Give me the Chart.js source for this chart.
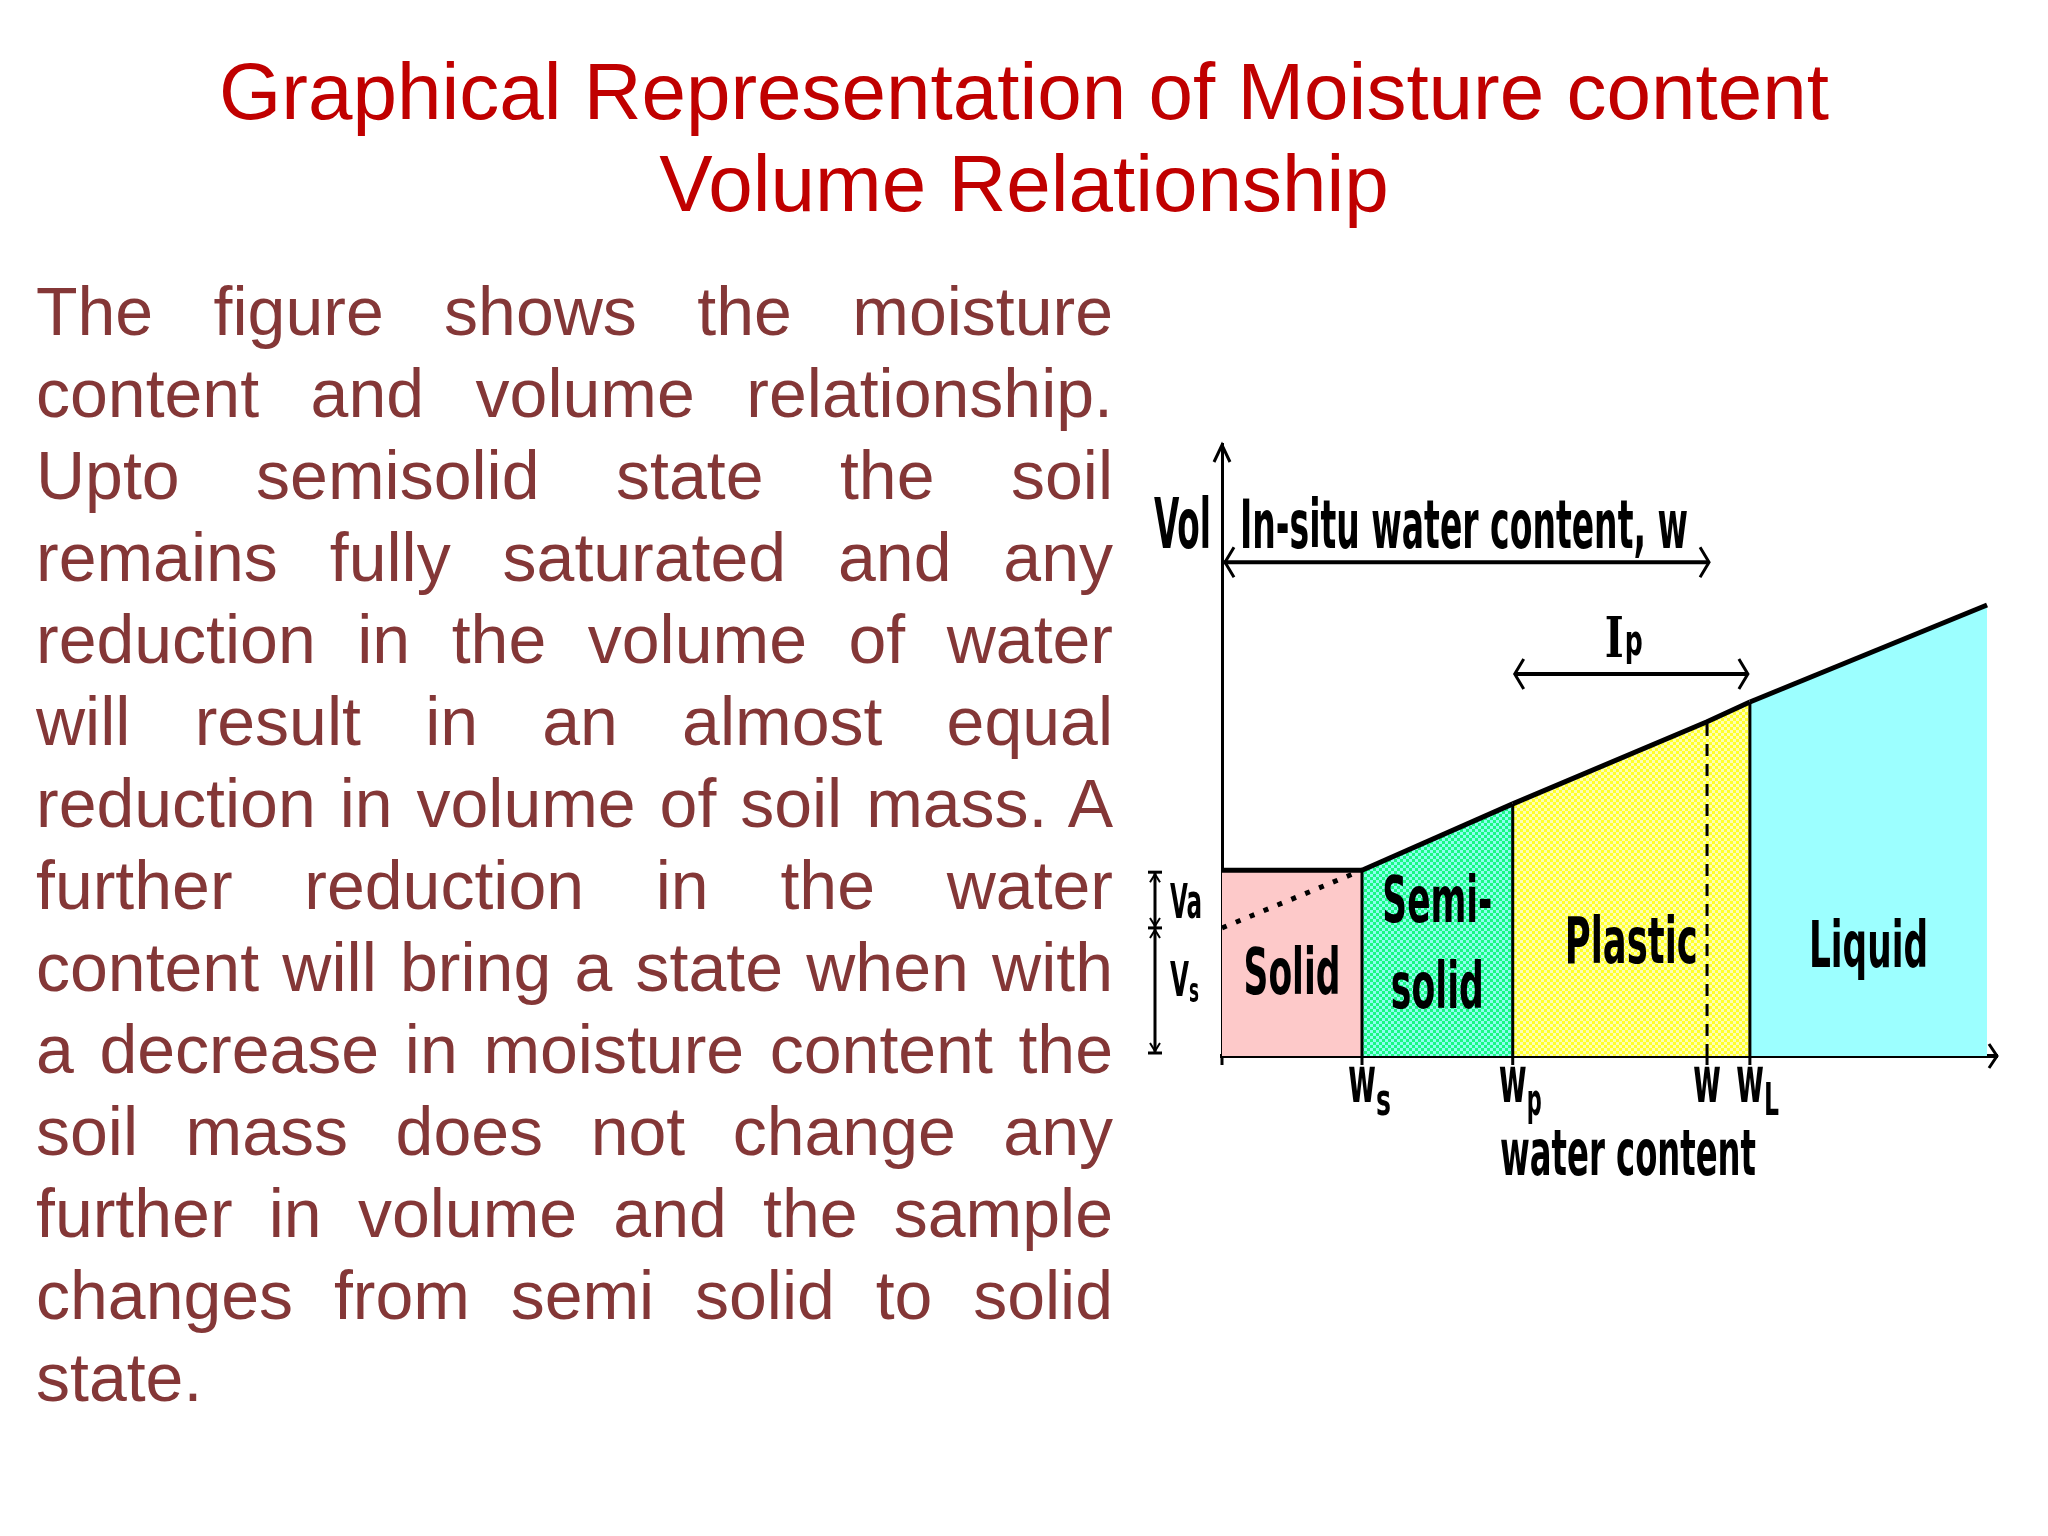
<!DOCTYPE html>
<html>
<head>
<meta charset="utf-8">
<script src="https://cdn.jsdelivr.net/npm/chart.js@4.4.1/dist/chart.umd.min.js"></script>
<style>
  html, body { margin: 0; padding: 0; background: #fff; }
  body { width: 2048px; height: 1536px; position: relative; overflow: hidden; }
  #title {
    position: absolute; left: 0; top: 46px; width: 2048px;
    text-align: center; color: #c00000;
    font-family: "Liberation Sans", Arial, sans-serif; font-size: 80px; line-height: 92px;
  }
  #text {
    position: absolute; left: 36px; top: 270px; width: 1077px;
    color: #843737;
    font-family: "Liberation Sans", Arial, sans-serif; font-size: 68px; line-height: 82px;
  }
  #text div { text-align: justify; text-align-last: justify; }
  #text div.last { text-align-last: left; }
  #wrap { position: absolute; left: 1100px; top: 400px; width: 948px; height: 800px; }
</style>
</head>
<body>
<div id="title">Graphical Representation of Moisture content<br>Volume Relationship</div>
<div id="text">
  <div>The figure shows the moisture</div>
  <div>content and volume relationship.</div>
  <div>Upto semisolid state the soil</div>
  <div>remains fully saturated and any</div>
  <div>reduction in the volume of water</div>
  <div>will result in an almost equal</div>
  <div>reduction in volume of soil mass. A</div>
  <div>further reduction in the water</div>
  <div>content will bring a state when with</div>
  <div>a decrease in moisture content the</div>
  <div>soil mass does not change any</div>
  <div>further in volume and the sample</div>
  <div>changes from semi solid to solid</div>
  <div class="last">state.</div>
</div>
<div id="wrap"><canvas id="chart" width="948" height="800"></canvas></div>
<script>
// valeurs (w en % arbitraire, volume en unites relatives)
const waterContent = [0, 18.3, 38.0, 63.4, 69.0, 100];   // 0, ws, wp, w, wL, fin
const volume = [41.2, 41.2, 55.9, 74.1, 78.5, 100];
const tickMain = ['', 'w', 'w', 'w', 'w'];
const tickSub = ['', 's', 'p', '', 'L'];
const stateNames = ['Solid', 'Semi-|solid', 'Plastic', 'Liquid'];
const stateBounds = [[0, 1], [1, 2], [2, 4], [4, 5]];
const solidsVolume = 28.4;   // Vs
const limitIdx = [1, 2, 4];  // ws, wp, wL
const insituIdx = 3;         // w

const FONT = '"DejaVu Sans Condensed", "Liberation Sans Narrow", "DejaVu Sans", sans-serif';

// petit damier pour imiter la trame de l'image
function dither(c1, c2, cell) {
    const cv = document.createElement('canvas');
    cv.width = cv.height = cell * 2;
    const g = cv.getContext('2d');
    g.fillStyle = c1;
    g.fillRect(0, 0, cell * 2, cell * 2);
    g.fillStyle = c2;
    g.fillRect(0, 0, cell, cell);
    g.fillRect(cell, cell, cell, cell);
    return g.createPattern(cv, 'repeat');
}

const ctx = document.getElementById('chart').getContext('2d');
const fills = [
    '#fdc9c9',
    dither('#1af882', '#8cfff0', 3),
    dither('#ffff2e', '#ffffb4', 3),
    '#9cffff'
];

function pts(a, b) {
    const out = [];
    for (let i = a; i <= b; i++) out.push({x: waterContent[i], y: volume[i]});
    return out;
}

const datasets = [];
// ligne pointillee de w
datasets.push({
    data: [{x: waterContent[insituIdx], y: 0}, {x: waterContent[insituIdx], y: volume[insituIdx]}],
    borderColor: '#000', borderWidth: 3, borderDash: [12, 8], fill: false
});
// limites verticales
limitIdx.forEach(i => {
    datasets.push({
        data: [{x: waterContent[i], y: 0}, {x: waterContent[i], y: volume[i]}],
        borderColor: '#000', borderWidth: 3, fill: false
    });
});
// ligne des solides (Vs)
datasets.push({
    data: [{x: 0, y: solidsVolume}, {x: waterContent[1], y: volume[1]}],
    borderColor: '#000', borderWidth: 5, borderDash: [5, 10], fill: false
});
// zones des etats
stateBounds.forEach((b, i) => {
    datasets.push({
        data: pts(b[0], b[1]),
        borderColor: '#000', borderWidth: 5,
        backgroundColor: fills[i], fill: 'origin'
    });
});

function squish(c, text, x, base, width, size, align, family) {
    c.save();
    c.font = 'bold ' + size + 'px ' + (family || FONT);
    const w = c.measureText(text).width;
    c.translate(x, base);
    c.scale(width / w, 1);
    c.textAlign = align || 'left';
    c.textBaseline = 'alphabetic';
    c.fillStyle = '#000';
    c.fillText(text, 0, 0);
    c.restore();
}

function line(c, pts, w) {
    c.beginPath();
    c.moveTo(pts[0][0], pts[0][1]);
    for (let i = 1; i < pts.length; i++) c.lineTo(pts[i][0], pts[i][1]);
    c.lineWidth = w;
    c.stroke();
}

const labelsPlugin = {
    id: 'labels',
    afterDraw(chart) {
        const c = chart.ctx;
        const xs = chart.scales.x, ys = chart.scales.y;
        const x0 = xs.getPixelForValue(0), y0 = ys.getPixelForValue(0);
        c.save();
        c.strokeStyle = '#000';
        c.lineCap = 'butt';

        // fleches des axes
        const yTop = ys.getPixelForValue(ys.max);
        line(c, [[x0 - 8, yTop + 18], [x0, yTop + 1], [x0 + 8, yTop + 18]], 3);
        const xEnd = xs.getPixelForValue(xs.max);
        line(c, [[xEnd - 8, y0 - 12], [xEnd, y0], [xEnd - 8, y0 + 12]], 3);

        // petits traits sous l'axe x
        for (let i = 0; i < tickMain.length; i++) {
            const px = xs.getPixelForValue(waterContent[i]);
            line(c, [[px, y0], [px, y0 + 9]], 3);
        }

        // etiquettes w
        for (let i = 1; i < tickMain.length; i++) {
            const px = xs.getPixelForValue(waterContent[i]);
            squish(c, tickMain[i], px - 14, y0 + 46, 28, 64);
            if (tickSub[i]) squish(c, tickSub[i], px + 14, y0 + 59, 15, 44);
        }
        squish(c, 'water content', x0 + 278, y0 + 119, 256, 64);

        // noms des etats
        const layout = [[62], [134, 48], [93], [89]];
        const widths = [[97], [110, 93], [133], [119]];
        stateNames.forEach((name, i) => {
            const b = stateBounds[i];
            const cx = (xs.getPixelForValue(waterContent[b[0]]) + xs.getPixelForValue(waterContent[b[1]])) / 2;
            name.split('|').forEach((part, k) => {
                squish(c, part, cx, y0 - layout[i][k], widths[i][k], 64, 'center');
            });
        });

        // Vol et w in situ
        squish(c, 'Vol', x0 - 68, yTop + 104, 57, 70);
        squish(c, 'In-situ water content, w', x0 + 18, yTop + 104, 448, 67);
        const wx = xs.getPixelForValue(waterContent[insituIdx]);
        const ay = ys.getPixelForValue(109.5);
        line(c, [[x0 + 2, ay], [wx + 2, ay]], 4);
        line(c, [[x0 + 12, ay - 15], [x0 + 3, ay], [x0 + 12, ay + 15]], 3);
        line(c, [[wx - 7, ay - 15], [wx + 2, ay], [wx - 7, ay + 15]], 3);

        // indice de plasticite
        const px1 = xs.getPixelForValue(waterContent[2]);
        const px2 = xs.getPixelForValue(waterContent[4]);
        const iy = ys.getPixelForValue(84.7);
        line(c, [[px1 + 2, iy], [px2 - 2, iy]], 4);
        line(c, [[px1 + 11, iy - 15], [px1 + 2, iy], [px1 + 11, iy + 15]], 3);
        line(c, [[px2 - 11, iy - 15], [px2 - 2, iy], [px2 - 11, iy + 15]], 3);
        squish(c, 'I', px1 + 92, iy - 17, 19, 56, 'left', '"DejaVu Serif", serif');
        squish(c, 'p', px1 + 112, iy - 19, 18, 42);

        // Va et Vs
        const vaTop = ys.getPixelForValue(volume[0]);
        const vsTop = ys.getPixelForValue(solidsVolume);
        const dx = x0 - 67;
        line(c, [[dx, vaTop + 2], [dx, y0 - 3]], 3);
        [vaTop + 2, vsTop, y0 - 3].forEach(yy => line(c, [[dx - 7, yy], [dx + 7, yy]], 3));
        [[vaTop + 2, 1], [vsTop, -1], [vsTop, 1], [y0 - 3, -1]].forEach(a => {
            line(c, [[dx - 5, a[0] + a[1] * 10], [dx, a[0] + a[1] * 2], [dx + 5, a[0] + a[1] * 10]], 2);
        });
        squish(c, 'Va', dx + 15, vaTop + 48, 32, 48);
        squish(c, 'V', dx + 15, y0 - 60, 19, 48);
        squish(c, 's', dx + 34, y0 - 54, 10, 34);
        c.restore();
    }
};

const volChart = new Chart(ctx, {
    type: 'scatter',
    data: {datasets: datasets},
    options: {
        responsive: false,
        animation: false,
        devicePixelRatio: 1,
        showLine: true,
        elements: {point: {radius: 0, hoverRadius: 0}, line: {tension: 0}},
        layout: {padding: {left: 122, top: 44, right: 51, bottom: 144}},
        plugins: {legend: {display: false}, tooltip: {enabled: false}, title: {display: false}},
        scales: {
            x: {
                type: 'linear', min: 0, max: 101.3,
                ticks: {display: false},
                grid: {display: false, drawTicks: false},
                border: {display: true, color: '#000', width: 4}
            },
            y: {
                type: 'linear', min: 0, max: 135.7,
                ticks: {display: false},
                grid: {display: false, drawTicks: false},
                border: {display: true, color: '#000', width: 3}
            }
        }
    },
    plugins: [labelsPlugin]
});
</script>
</body>
</html>
